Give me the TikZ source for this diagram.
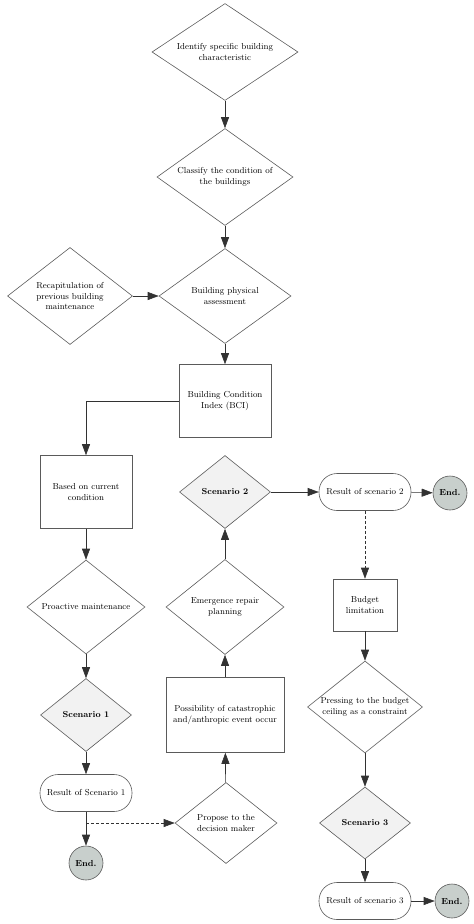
\documentclass[tikz,border=0pt]{standalone}
\usepackage{tikz}
\usetikzlibrary{positioning,shapes.geometric,arrows.meta}
\definecolor{linegray}{RGB}{50,50,50}
\definecolor{shapegray}{RGB}{90,90,90}
\definecolor{scenfill}{RGB}{242,242,242}
\definecolor{endfill}{RGB}{200,207,204}

\begin{document}
\begin{tikzpicture}[
  x=1pt, y=-1pt,
  font=\fontsize{8.7}{10.7}\selectfont,
  every node/.style={draw=shapegray, line width=0.6pt, align=center, inner sep=0pt},
  decision/.style={diamond, aspect=1.3},
  scenario/.style={decision, fill=scenfill, font=\fontsize{8.7}{10.7}\selectfont\bfseries},
  process/.style={rectangle},
  result/.style={rectangle, rounded corners=18pt, minimum width=92pt, minimum height=37pt},
  finish/.style={circle, fill=endfill, minimum size=34pt, font=\fontsize{8.7}{10.7}\selectfont\bfseries},
  line/.style={draw=linegray, line width=0.6pt, -{Triangle[length=11pt,width=8pt]}},
]
\useasboundingbox (0,0) rectangle (474,924);

% main column
\node[decision, minimum width=146pt, minimum height=97pt] (identify) at (225,52)
  {Identify specific building\\characteristic};
\node[decision, minimum width=136pt, minimum height=97pt] (classify) at (225,177)
  {Classify the condition of\\the buildings};
\node[decision, minimum width=132pt, minimum height=95pt] (assess) at (225,296)
  {Building physical\\assessment};
\node[decision, minimum width=125pt, minimum height=97pt] (recap) at (70,296)
  {Recapitulation of\\previous building\\maintenance};
\node[process, minimum width=92pt, minimum height=73pt] (bci) at (225,401)
  {Building Condition\\Index (BCI)};

% scenario 1
\node[process, minimum width=92pt, minimum height=73pt] (based) at (86,492)
  {Based on current\\condition};
\node[decision, minimum width=118pt, minimum height=94pt] (proactive) at (86,607)
  {Proactive maintenance};
\node[scenario, minimum width=91pt, minimum height=73pt] (scen1) at (86,715) {Scenario 1};
\node[result] (res1) at (86,793) {Result of Scenario 1};
\node[finish] (end1) at (86,863) {End.};

% scenario 2
\node[decision, minimum width=102pt, minimum height=81pt] (propose) at (226,823)
  {Propose to the\\decision maker};
\node[process, minimum width=118pt, minimum height=75pt] (possible) at (225,715)
  {Possibility of catastrophic\\and/anthropic event occur};
\node[decision, minimum width=118pt, minimum height=95pt] (emergence) at (225,607)
  {Emergence repair\\planning};
\node[scenario, minimum width=91pt, minimum height=73pt] (scen2) at (225,492) {Scenario 2};
\node[result] (res2) at (365,492) {Result of scenario 2};
\node[finish] (end2) at (450,493) {End.};

% scenario 3
\node[process, minimum width=64pt, minimum height=52pt] (budget) at (365,605)
  {Budget\\limitation};
\node[decision, minimum width=115pt, minimum height=92pt] (pressing) at (365,707)
  {Pressing to the budget\\ceiling as a constraint};
\node[scenario, minimum width=91pt, minimum height=72pt] (scen3) at (365,823) {Scenario 3};
\node[result] (res3) at (365,901) {Result of scenario 3};
\node[finish] (end3) at (452,901) {End.};

% connectors
\draw[line] (identify) -- (classify);
\draw[line] (classify) -- (assess);
\draw[line] (recap) -- (assess);
\draw[line] (assess) -- (bci);
\draw[line] (bci.west) -| (based.north);
\draw[line] (based) -- (proactive);
\draw[line] (proactive) -- (scen1);
\draw[line] (scen1) -- (res1);
\draw[line] (res1) -- (end1);
\coordinate (split) at (res1.south |- propose.west);
\draw[line, dash pattern=on 3pt off 2pt] (split) -- (propose.west);
\draw[line] (propose) -- (possible);
\draw[line] (possible) -- (emergence);
\draw[line] (emergence) -- (scen2);
\draw[line] (scen2) -- (res2);
\draw[line] (res2) -- (end2);
\draw[line, dash pattern=on 3pt off 2pt] (res2) -- (budget);
\draw[line] (budget) -- (pressing);
\draw[line] (pressing) -- (scen3);
\draw[line] (scen3) -- (res3);
\draw[line] (res3) -- (end3);
\end{tikzpicture}
\end{document}
